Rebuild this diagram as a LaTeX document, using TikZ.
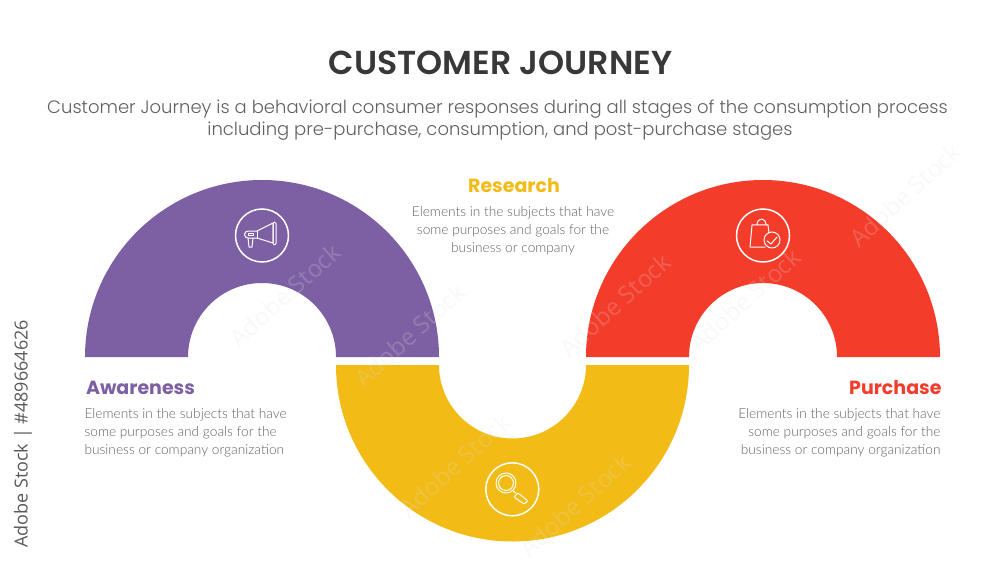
\documentclass[tikz,border=0pt]{standalone}
\usepackage{fontspec}
\setmainfont{Open Sans}
\newfontfamily\headfont{Poppins}
\newfontfamily\titlefont{Poppins SemiBold}
\newfontfamily\introfont{Poppins Light}
\newfontfamily\bodyfont{Lato Light}
\usetikzlibrary{calc}
\definecolor{purplearc}{HTML}{7D60A3}
\definecolor{redarc}{HTML}{F43C2B}
\definecolor{yellowarc}{HTML}{F2BB16}
\tikzset{
	titletext/.style={text=black!78, font=\titlefont\fontsize{33.2}{36}\selectfont},
	introtext/.style={text=black!62, font=\introfont\fontsize{18}{22.5}\selectfont},
	headtext/.style={font=\headfont\bfseries\fontsize{19}{22}\selectfont},
	bodytext/.style={text=black!62, font=\bodyfont\fontsize{13.7}{18}\selectfont},
	iconline/.style={draw=white, line width=1pt, line join=round, line cap=round},
	iconring/.style={draw=white, line width=1.5pt},
	marktext/.style={text=black!12, opacity=0.22, rotate=42, font=\fontsize{24}{26}\selectfont},
}
\begin{document}
\begin{tikzpicture}[x=1pt, y=1pt]
			%%%%% START %%%%%
			\useasboundingbox (0, 0) rectangle (1000, 563);
			
			\node[titletext] (title) at (500.5, 500) {CUSTOMER JOURNEY};
			\node[introtext] (introtop) at (497.5, 454) {Customer Journey is a behavioral consumer responses during all stages of the consumption process};
			\node[introtext] (introbottom) at (500, 432) {including pre-purchase, consumption, and post-purchase stages};
			
			\fill[purplearc] (85, 206) arc (180:0:177) -- (336, 206) arc (0:180:74) -- cycle;
			\fill[redarc] (586, 206) arc (180:0:177) -- (837, 206) arc (0:180:74) -- cycle;
			\fill[yellowarc] (336, 198) arc (180:360:176.5) -- (586, 198) arc (360:180:73.5) -- cycle;
			
			\node[headtext, text=yellowarc] (research) at (514, 377) {Research};
			\node[bodytext, align=center] (researchbody) at (513, 332) {Elements in the subjects that have\\some purposes and goals for the\\business or company};
			
			\node[headtext, text=purplearc, anchor=west] (awareness) at (82.5, 175) {Awareness};
			\node[bodytext, align=left, anchor=west] (awarenessbody) at (81, 130) {Elements in the subjects that have\\some purposes and goals for the\\business or company organization};
			
			\node[headtext, text=redarc, anchor=east] (purchase) at (945, 175) {Purchase};
			\node[bodytext, align=right, anchor=east] (purchasebody) at (944, 130) {Elements in the subjects that have\\some purposes and goals for the\\business or company organization};
			
			% megaphone
			\draw[iconring] (262, 327.5) circle (26.5);
			\draw[iconline] (248, 332) -- (257, 332) -- (273, 340) -- (273, 320) -- (257, 325) -- (248, 325) arc (270:90:3.5);
			\draw[iconline, rounded corners=1.5pt] (273, 341) rectangle (276, 318);
			\draw[iconline] (257, 332) -- (257, 325);
			\draw[iconline] (248, 330) rectangle (253, 328);
			\draw[iconline] (248, 325) -- (249, 316) -- (252, 316) -- (253, 325);
			
			% shopping bag
			\draw[iconring] (763, 327.5) circle (26.5);
			\draw[iconline] (765, 316) -- (750, 316) -- (752, 338) -- (768, 338) -- (769, 330);
			\draw[iconline] (757, 338) .. controls (757, 346) and (766, 346) .. (766, 338);
			\draw[iconline] (772, 323) circle (8);
			\draw[iconline] (767, 322) -- (771, 319) -- (777, 326);
			
			% magnifier
			\draw[iconring] (512.3, 73.7) circle (26.5);
			\draw[iconline] (506, 80) circle (10);
			\draw[iconline] (506, 80) circle (7.5);
			\draw[iconline] (513, 72) -- (516, 70);
			\draw[iconline, rounded corners=1pt] (518, 70) -- (528, 62) -- (524, 59) -- (514, 66) -- cycle;
			
			\node[rotate=90, text=black!65, font=\fontsize{18}{20}\selectfont] (stockmark) at (23, 129) {Adobe Stock | \#489664626};
			
			% faint stock marks
			\foreach \markx/\marky [count=\marknum] in {285/295, 410/335, 615/305, 745/300, 905/195, 455/465, 575/505}
				\node[marktext] (mark\marknum) at (\markx, 563-\marky) {Adobe Stock};
			
			%%%%% END %%%%%
		\end{tikzpicture}
\end{document}
